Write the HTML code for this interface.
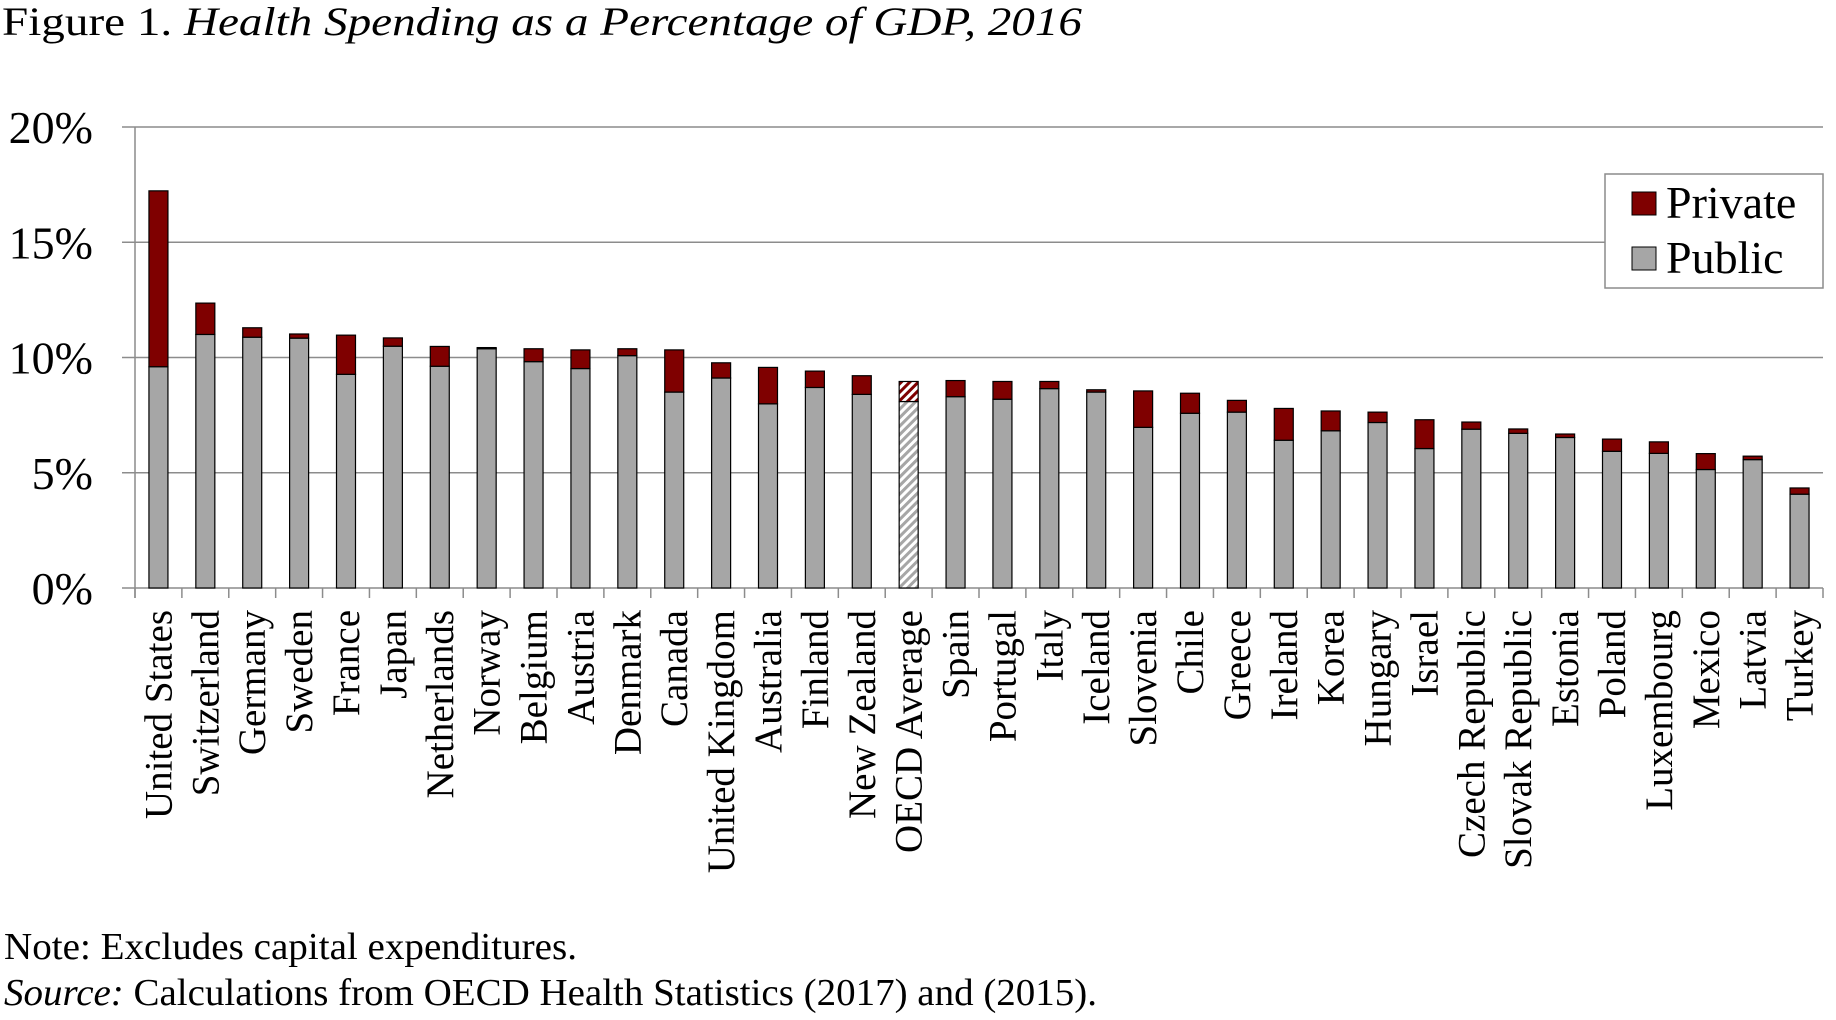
<!DOCTYPE html>
<html><head><meta charset="utf-8"><style>
html,body{margin:0;padding:0;background:#fff;}
svg{display:block;font-family:"Liberation Serif",serif;}
</style></head><body>
<svg id="c" width="1836" height="1020" viewBox="0 0 1836 1020" xmlns="http://www.w3.org/2000/svg">
<defs>
<pattern id="hg" patternUnits="userSpaceOnUse" width="6" height="6" patternTransform="rotate(45)">
<rect width="6" height="6" fill="#fff"/><rect width="3" height="6" fill="#a6a6a6"/></pattern>
<pattern id="hr" patternUnits="userSpaceOnUse" width="6" height="6" patternTransform="rotate(45)">
<rect width="6" height="6" fill="#fff"/><rect width="3" height="6" fill="#7f0000"/></pattern>
</defs>
<text x="2" y="35" font-size="40" textLength="1080" lengthAdjust="spacingAndGlyphs">Figure 1. <tspan font-style="italic">Health Spending as a Percentage of GDP, 2016</tspan></text>
<text x="4" y="959" font-size="38" textLength="573" lengthAdjust="spacingAndGlyphs">Note: Excludes capital expenditures.</text>
<text x="4" y="1005" font-size="38" textLength="1093" lengthAdjust="spacingAndGlyphs"><tspan font-style="italic">Source:</tspan> Calculations from OECD Health Statistics (2017) and (2015).</text>
<g id="g"></g>
<rect x="1605" y="174" width="218" height="114" fill="#fff" stroke="#8c8c8c" stroke-width="1.5"/>
<rect x="1632" y="192" width="24" height="23" fill="#7f0000" stroke="#000" stroke-width="1"/>
<rect x="1632" y="247" width="24" height="23" fill="#a6a6a6" stroke="#000" stroke-width="1"/>
<text x="1666" y="218" font-size="46">Private</text>
<text x="1666" y="273" font-size="46">Public</text>
</svg>
<script>
var d=[["United States",17.23,9.6],["Switzerland",12.36,11.0],["Germany",11.29,10.88],["Sweden",11.02,10.84],["France",10.97,9.27],["Japan",10.85,10.49],["Netherlands",10.48,9.62],["Norway",10.43,10.38],["Belgium",10.38,9.82],["Austria",10.33,9.52],["Denmark",10.38,10.08],["Canada",10.33,8.5],["United Kingdom",9.77,9.11],["Australia",9.57,7.99],["Finland",9.41,8.70],["New Zealand",9.21,8.40],["OECD Average",8.96,8.09],["Spain",9.0,8.3],["Portugal",8.96,8.19],["Italy",8.96,8.65],["Iceland",8.6,8.5],["Slovenia",8.55,6.97],["Chile",8.45,7.58],["Greece",8.14,7.63],["Ireland",7.79,6.41],["Korea",7.68,6.82],["Hungary",7.63,7.18],["Israel",7.30,6.05],["Czech Republic",7.20,6.89],["Slovak Republic",6.90,6.71],["Estonia",6.68,6.53],["Poland",6.46,5.93],["Luxembourg",6.34,5.84],["Mexico",5.83,5.14],["Latvia",5.72,5.57],["Turkey",4.34,4.07]];
var x0=135,x1=1823,y0=588,ytop=127,ppc=(y0-ytop)/20,w=(x1-x0)/36,s="";
for(var i=0;i<=4;i++){var y=y0-i*5*ppc;s+='<line x1="122" x2="'+x1+'" y1="'+y+'" y2="'+y+'" stroke="#8c8c8c" stroke-width="1.5"/>';
s+='<text x="93" y="'+(y+16)+'" font-size="46" text-anchor="end">'+(i*5)+'%</text>';}
s+='<line x1="'+x0+'" x2="'+x0+'" y1="'+ytop+'" y2="'+(y0+10)+'" stroke="#8c8c8c" stroke-width="1.5"/>';
for(var i=0;i<=36;i++){var x=x0+i*w;s+='<line x1="'+x+'" x2="'+x+'" y1="'+y0+'" y2="'+(y0+10)+'" stroke="#8c8c8c" stroke-width="1.5"/>';}
d.forEach(function(r,i){var bw=19,bx=x0+i*w+(w-bw)/2,yt=y0-r[1]*ppc,yp=y0-r[2]*ppc;var o=i==16;
s+='<rect x="'+bx+'" y="'+yp+'" width="'+bw+'" height="'+(y0-yp)+'" fill="'+(o?'url(#hg)':'#a6a6a6')+'" stroke="#000" stroke-width="1.2"/>';
s+='<rect x="'+bx+'" y="'+yt+'" width="'+bw+'" height="'+(yp-yt)+'" fill="'+(o?'url(#hr)':'#7f0000')+'" stroke="#000" stroke-width="1.2"/>';
var cx=x0+i*w+w/2+13;
s+='<text transform="translate('+cx+',610) rotate(-90)" font-size="39" text-anchor="end">'+r[0]+'</text>';});
document.getElementById('g').innerHTML=s;
</script>
</body></html>
